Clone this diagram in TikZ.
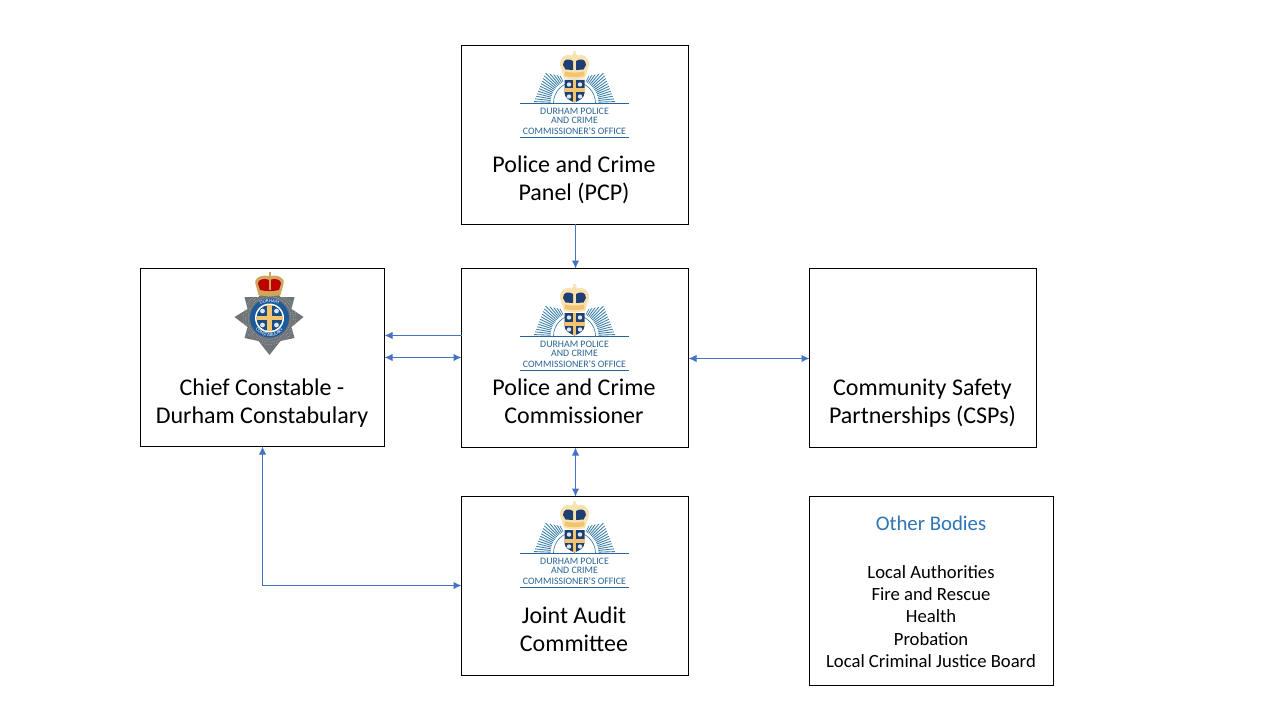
\documentclass[tikz,border=0pt]{standalone}
\usepackage{fontspec}
\setmainfont{Carlito}
\usetikzlibrary{arrows.meta,calc,decorations.text}
\definecolor{conn}{HTML}{4472C4}
\definecolor{logoblue}{HTML}{2A6496}
\definecolor{rayblue}{HTML}{3A7FA8}
\definecolor{navy}{HTML}{1F3F73}
\definecolor{gold}{HTML}{F2C46D}
\definecolor{paleg}{HTML}{F8E3B0}
\definecolor{head}{HTML}{2E75B6}
\definecolor{badge}{HTML}{1C5A9C}
\definecolor{steel}{HTML}{6E7478}
\tikzset{
  box/.style={draw=black,line width=0.75pt,fill=white,inner sep=0pt,outer sep=0pt,anchor=north west},
  label18/.style={align=center,inner sep=0pt,font=\fontsize{18}{21.2}\selectfont},
  label14/.style={align=center,inner sep=0pt,font=\fontsize{14}{16.7}\selectfont},
  label16/.style={align=center,inner sep=0pt,font=\fontsize{15.6}{18}\selectfont},
  link/.style={draw=conn,line width=0.75pt,-{Latex[length=6pt,width=5.5pt]}},
  both/.style={draw=conn,line width=0.75pt,{Latex[length=6pt,width=5.5pt]}-{Latex[length=6pt,width=5.5pt]}},
  officelogo/.pic={
    \begin{scope}[y=0.75pt]
      % rays
      \begin{scope}
        \clip (-41,0) -- (-29,30) -- (-14,27) -- (-11,21) -- (11,21) -- (14,27) -- (29,30) -- (41,0) -- cycle;
        \foreach \a in {2,6,...,180}{
          \draw[rayblue,line width=0.65pt] ({24*cos(\a)},{24*sin(\a)}) -- ({62*cos(\a)},{62*sin(\a)});
        }
        \draw[rayblue,line width=0.5pt] (-21,0) arc (180:0:21);
      \end{scope}
      % crown
      \fill[paleg] (-14.5,38) .. controls (-15,46) and (-8,50) .. (-2.5,47.5) -- (-2,49) -- (-1.2,49) -- (-1.2,52) -- (1.2,52) -- (1.2,49) -- (2,49) -- (2.5,47.5) .. controls (8,50) and (15,46) .. (14.5,38)
        -- (10.5,25) .. controls (4,23.5) and (-4,23.5) .. (-10.5,25) -- cycle;
      \fill[navy] (-11.5,38) .. controls (-11.5,44) and (-6,45) .. (-1.5,42) -- (-1.5,33) -- (-9,33.5) -- cycle;
      \fill[navy] (11.5,38) .. controls (11.5,44) and (6,45) .. (1.5,42) -- (1.5,33) -- (9,33.5) -- cycle;
      \fill[gold] (-9.5,31.5) .. controls (-3,30) and (3,30) .. (9.5,31.5) -- (10,27) .. controls (3,25.5) and (-3,25.5) .. (-10,27) -- cycle;
      % shield
      \fill[navy] (-10,23) -- (10,23) -- (10,10) .. controls (10,5) and (4,2) .. (0,0.5) .. controls (-4,2) and (-10,5) .. (-10,10) -- cycle;
      \fill[gold] (-1.8,23) rectangle (1.8,1.2);
      \fill[gold] (-10,10.5) rectangle (10,14.5);
      \foreach \px/\py in {-5.5/18.5,5.5/18.5,-5.5/6.5,5.5/6.5}{
        \fill[white!85!logoblue] (\px,\py) circle (2.2);
      }
      % rules
      \draw[logoblue,line width=0.6pt] (-54.5,0) -- (54.5,0);
      \draw[logoblue,line width=0.5pt] (-54.5,-34) -- (54.5,-34);
      % wording
      \node[text=logoblue,inner sep=0pt,font=\fontsize{7.4}{7.4}\selectfont] (-la) at (0,-8) {DURHAM POLICE};
      \node[text=logoblue,inner sep=0pt,font=\fontsize{7.4}{7.4}\selectfont] (-lb) at (0,-17.5) {AND CRIME};
      \node[text=logoblue,inner sep=0pt,font=\fontsize{7.4}{7.4}\selectfont] (-lc) at (0,-28) {COMMISSIONER'S OFFICE};
    \end{scope}
  },
  constablogo/.pic={
    \begin{scope}[y=0.75pt]
      % star
      \fill[steel] (-35,1) -- (-22,9) -- (-25,21) -- (-11,21) -- (0,36) -- (11,21) -- (25,21) -- (22,9) -- (34,1) -- (22,-9) -- (25,-20) -- (11,-23) -- (0,-37) -- (-11,-23) -- (-25,-20) -- (-22,-9) -- cycle;
      \foreach \r in {21.5,24,26.5}{\draw[gray!25,line width=0.3pt,densely dotted] (0,0) circle (\r);}
      % ring
      \fill[badge] (0,0) circle (19.5);
      \fill[white] (0,0) circle (14.5);
      \fill[badge!85!black] (0,0) circle (13);
      \path[decorate,decoration={text along path,text color=white,text align=center,text={|\fontsize{3.6}{3.6}\selectfont|DURHAM}}]
        (-15.5,4) arc (165:15:16);
      \path[decorate,decoration={text along path,text color=white,text align=center,text={|\fontsize{3.6}{3.6}\selectfont|CONSTABULARY}}]
        (-18.3,-3) arc (190:350:18.5);
      % cross
      \fill[gold] (-2.2,13) rectangle (2.2,-13);
      \fill[gold] (-13,-2.2) rectangle (13,2.2);
      \foreach \px/\py in {-7/7,7/7,-7/-7,7/-7}{
        \fill[white!85!badge] (\px,\py) circle (2.4);
      }
      % crown
      \fill[gold!85!black] (-1,46.5) rectangle (1,42);
      \fill[gold!85!black] (-14,34) .. controls (-16,41) and (-7,43.5) .. (0,42) .. controls (7,43.5) and (16,41) .. (14,34) -- (11,23) .. controls (4,21.5) and (-4,21.5) .. (-11,23) -- cycle;
      \fill[red!75!black] (-11.5,34.5) .. controls (-11.5,39) and (-5,40) .. (0,38) .. controls (5,40) and (11.5,39) .. (11.5,34.5) -- (9.5,28) .. controls (3,26.5) and (-3,26.5) .. (-9.5,28) -- cycle;
      \fill[gold!85!black] (-1,42) rectangle (1,28);
    \end{scope}
  }
}
\begin{document}
\begin{tikzpicture}[x=0.75pt,y=-0.75pt]
\useasboundingbox[fill=white] (0,0) rectangle (1280,720);

\node[box,minimum width=170.25pt,minimum height=134.25pt] (pcp) at (461.5,45.5) {};
\node[box,minimum width=170.25pt,minimum height=134.25pt] (pcc) at (461.5,268.5) {};
\node[box,minimum width=183pt,minimum height=133.5pt] (cc) at (140.5,268.5) {};
\node[box,minimum width=170.25pt,minimum height=134.25pt] (csp) at (809.5,268.5) {};
\node[box,minimum width=170.25pt,minimum height=134.25pt] (jac) at (461.5,496.5) {};
\node[box,minimum width=183pt,minimum height=141.75pt] (ob) at (809.5,496.5) {};

\pic (logoa) at (574.5,103) {officelogo};
\pic (logob) at (574.5,336) {officelogo};
\pic (logoc) at (574.5,553) {officelogo};
\pic (logod) at (269.5,318) {constablogo};

\node[label18] (pcptext) at (574,179.5) {Police and Crime\\Panel (PCP)};
\node[label18] (pcctext) at (574,401.5) {Police and Crime\\Commissioner};
\node[label18] (cctext) at (262,403) {Chief Constable -\\Durham Constabulary};
\node[label18] (csptext) at (922.5,403.5) {Community Safety\\Partnerships (CSPs)};
\node[label18] (jactext) at (574,629) {Joint Audit\\Committee};
\node[label16,text=head] (obhead) at (931,523) {Other Bodies};
\node[label14] (oblist) at (931,616.5) {Local Authorities\\Fire and Rescue\\Health\\Probation\\Local Criminal Justice Board};

\draw[link] (575.5,224.5) -- (pcc.north -| 575.5,0);
\draw[link] (pcc.west |- 0,335.5) -- (cc.east |- 0,335.5);
\draw[both] (cc.east |- 0,357.5) -- (pcc.west |- 0,357.5);
\draw[both] (pcc.east |- 0,358.5) -- (csp.west |- 0,358.5);
\draw[both] (pcc.south -| 575.5,0) -- (jac.north -| 575.5,0);
\draw[both] (cc.south) -- (cc.south |- 0,585.5) -- (jac.west |- 0,585.5);
\end{tikzpicture}
\end{document}
